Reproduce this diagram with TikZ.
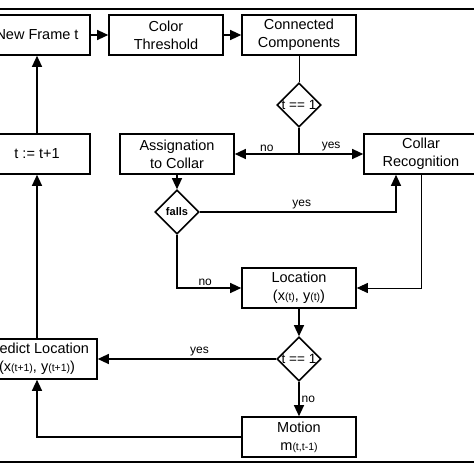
\documentclass[tikz,border=0pt]{standalone}
\usepackage{fontspec}
\setmainfont{Liberation Sans}
\usetikzlibrary{positioning,shapes.geometric,arrows.meta}
\tikzset{proc node/.style={rectangle,draw,line width=1.6pt,minimum width=114pt,minimum height=40pt,inner xsep=8pt,inner ysep=2pt,align=center,font=\fontsize{14.5}{18}\selectfont},
  dec node/.style={diamond,draw,line width=1.6pt,minimum width=44pt,minimum height=44pt,inner sep=0pt,font=\fontsize{13.5}{15}\selectfont},
  lbl/.style={font=\fontsize{12}{14}\selectfont,inner sep=2pt} }
\newcommand{\idx}[1]{{\fontsize{10.5}{12}\selectfont(#1)}}

\begin{document}
\begin{tikzpicture}[x=1pt,y=1pt,line width=1.2pt,>={Triangle[length=11pt,width=10pt]}]
\useasboundingbox (0,0) rectangle (474,-474);
\clip (0,0) rectangle (474,-474);
\draw[line width=1.6pt] (-60,-9) rectangle (534,-462);
\begin{scope}[on grid]

  \node[proc node,minimum width=106pt] (frame) at (37,-35) {New Frame t};
  \node[proc node] (thresh) [right=129pt of frame] {Color\\Threshold};
  \node[proc node] (conncomp) [right=133pt of thresh] {Connected\\Components};
  \node[dec node] (dec1) [below=70pt of conncomp] {\makebox[0pt]{t == 1}};
  \node[proc node] (assign) [below left=49pt and 122pt of dec1] {Assignation\\to Collar};
  \node[proc node] (collar) [below right=49pt and 122pt of dec1] {Collar\\Recognition};
  \node[proc node,minimum width=106pt] (incr) [below=119pt of frame] {t := t+1};
  \node[dec node] (falls) [below=58pt of assign] {\makebox[0pt]{\fontsize{11}{12}\selectfont\bfseries falls}};
  \node[proc node] (location) [below=183pt of dec1] {Location\\(x\idx{t}, y\idx{t})};
  \node[dec node] (dec2) [below=71pt of location] {\makebox[0pt]{t == 1}};
  \node[proc node] (motion) [below=78pt of dec2] {Motion\\m\idx{t,t-1}};
  \node[proc node,minimum width=106pt] (predict) [below=205pt of incr] {Predict Location\\(x\idx{t+1}, y\idx{t+1})};

  \coordinate (split) at (dec1 |- assign);

    \path[every node/.style={lbl}]
    (frame) edge [->] (thresh)
    (thresh) edge [->] (conncomp)
    (conncomp) edge [line width=0.9pt] (dec1)
    (dec1) edge (split)
    (split) edge [->] node[above] {no} (assign)
    (split) edge [->] node[above] {yes} (collar)
    (assign) edge [->] (falls)
    (location) edge [->] (dec2)
    (dec2) edge [->] node[above,pos=0.43] {yes} (predict)
    (dec2) edge [->] node[right] {no} (motion)
    (predict) edge [->] (incr)
    (incr) edge [->] (frame)

    ;
    \draw[->] (falls.east) -| node[lbl,above,pos=0.26] {yes} ([xshift=-25pt]collar.south);
    \draw[->] (falls.south) |- node[lbl,above,pos=0.72] {no} (location);
    \draw[->,line width=0.9pt] (collar.south) |- (location);
    \draw[->] (motion.west) -| (predict);
    \end{scope}
\end{tikzpicture}
\end{document}
